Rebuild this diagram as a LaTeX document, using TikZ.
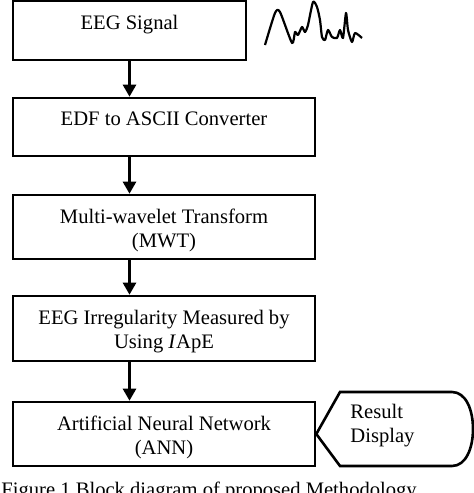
\documentclass[tikz,border=0pt]{standalone}
\usepackage{fontspec}
\setmainfont{Liberation Serif}
\usepackage{tikz}
\usetikzlibrary{shapes,arrows.meta}

\begin{document}
\begin{tikzpicture}[x=0.5pt,y=-0.5pt,
      font=\fontsize{10.3}{12}\selectfont,
      blk/.style={rectangle,draw,line width=1.3pt,inner sep=0pt},
      lbl/.style={inner sep=0pt,align=center,anchor=north,yshift=-7.5pt},
      flow/.style={line width=1.3pt,-{Triangle[length=6pt,width=6.5pt]}}]
    \useasboundingbox (0,0) rectangle (474,493);
    % blocks
    \node[blk,minimum width=116.5pt,minimum height=29.5pt] (sig) at (129.5,30.5) {};
    \node[blk,minimum width=151pt,minimum height=29pt] (conv) at (164,127) {};
    \node[blk,minimum width=151pt,minimum height=32pt] (mwt) at (164,227) {};
    \node[blk,minimum width=151pt,minimum height=32.5pt] (irr) at (164,328.5) {};
    \node[blk,minimum width=151pt,minimum height=32pt] (ann) at (164,434) {};
    \node[lbl] (sigtxt) at (sig.north) {EEG Signal};
    \node[lbl] (convtxt) at (conv.north) {EDF to ASCII Converter};
    \node[lbl] (mwttxt) at (mwt.north) {Multi-wavelet Transform\\(MWT)};
    \node[lbl] (irrtxt) at (irr.north) {EEG Irregularity Measured by\\Using \textit{I}ApE};
    \node[lbl] (anntxt) at (ann.north) {Artificial Neural Network\\(ANN)};
    % arrows
    \draw[flow] (sig.south) -- (conv.north -| sig.south);
    \draw[flow] (conv.south -| sig.south) -- (mwt.north -| sig.south);
    \draw[flow] (mwt.south -| sig.south) -- (irr.north -| sig.south);
    \draw[flow] (irr.south -| sig.south) -- (ann.north -| sig.south);
    % display
    \draw[line width=1.3pt] (ann.east) -- (340,392) -- (452,392)
      .. controls (466,392) and (473,410) .. (473,429)
      .. controls (473,448) and (466,466) .. (452,466) -- (340,466) -- cycle;
    \node[inner sep=0pt,align=left,anchor=north west] (disp) at (350,404) {Result\\Display};
    % eeg trace
    \draw[line width=1.1pt,line join=round] plot[smooth,tension=0.4] coordinates {
      (265,45) (275,13) (280,12) (292,43) (295,32) (298,35) (302,27) (305,32)
      (308,25) (313,2) (317,7) (320,20) (322,37) (325,40) (328,30) (332,37)
      (337,38) (340,30) (343,38) (346,13) (348,30) (352,42) (355,33) (362,38)};
    \node[inner sep=0pt,anchor=north west] (cap) at (1,482) {Figure 1 Block diagram of proposed Methodology};
  \end{tikzpicture}
\end{document}
